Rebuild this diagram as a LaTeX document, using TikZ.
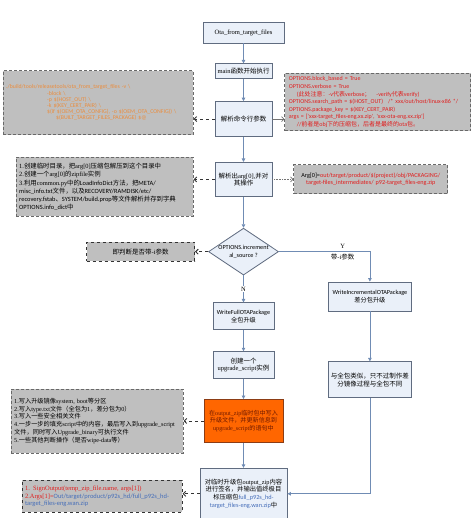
\documentclass[tikz,border=0pt]{standalone}
\usepackage{fontspec}
\setmainfont{Liberation Serif}
\newfontfamily\calfont{Carlito}
\newfontfamily\cjkfont{Noto Sans CJK SC}
\usetikzlibrary{positioning,shapes.geometric,arrows.meta}

% CJK characters switch to the CJK font on their own
\XeTeXinterchartokenstate=1
\newXeTeXintercharclass\cjkclass
\newcount\cjkcode
\newcommand\cjkrange[2]{%
  \cjkcode=#1\relax
  \loop
    \XeTeXcharclass\cjkcode=\cjkclass
    \advance\cjkcode by 1
  \ifnum\cjkcode<#2\relax\repeat}
\cjkrange{"3000}{"3040}
\cjkrange{"4E00}{"A000}
\cjkrange{"FF00}{"FFF0}
\XeTeXinterchartoks 0 \cjkclass = {\begingroup\cjkfont}
\XeTeXinterchartoks 4095 \cjkclass = {\begingroup\cjkfont}
\XeTeXinterchartoks \cjkclass 0 = {\endgroup}
\XeTeXinterchartoks \cjkclass 4095 = {\endgroup}

\definecolor{stepfill}{RGB}{234,240,249}
\definecolor{stepdraw}{RGB}{96,108,128}
\definecolor{flowline}{RGB}{112,140,180}
\definecolor{notefill}{RGB}{191,191,191}
\definecolor{notedraw}{RGB}{105,105,105}
\definecolor{notered}{RGB}{225,30,30}
\definecolor{noteblue}{RGB}{70,110,185}
\definecolor{cmdorange}{RGB}{235,140,60}
\definecolor{zipfill}{RGB}{255,102,0}
\definecolor{zipdraw}{RGB}{140,60,20}
\definecolor{ziptext}{RGB}{110,25,0}

\begin{document}
\begin{tikzpicture}[x=1pt, y=-1pt,
    every node/.style={font=\fontsize{6.5}{7.6}\selectfont},
    sans/.style={font=\calfont\fontsize{6.2}{7.6}\selectfont},
    stepbox/.style={draw=stepdraw, fill=stepfill, line width=0.8pt, align=center, inner sep=1pt},
    zipbox/.style={draw=zipdraw, fill=zipfill, line width=0.8pt, align=center, inner sep=1pt, text=ziptext},
    decision/.style={diamond, draw=stepdraw, fill=stepfill, line width=0.8pt, align=center, inner sep=-4pt, minimum width=70pt, minimum height=42pt},
    notebox/.style={draw=notedraw, fill=notefill, densely dashed, line width=0.8pt, align=left, inner xsep=3pt},
    markbox/.style={draw=black!80, fill=notefill, dashed, line width=1pt, align=left, inner xsep=3pt},
    flow/.style={draw=flowline, line width=0.8pt, -{Triangle[length=3.5pt, width=3.5pt]}},
    aside/.style={draw=black!80, dashed, line width=0.9pt, -{Straight Barb[length=2.5pt, width=5pt]}},
    hint/.style={draw=black!55, line width=0.6pt, -{Straight Barb[length=2.5pt, width=5pt]}},
  ]
  \useasboundingbox (0,0) rectangle (474,518);

  \node[stepbox, minimum width=81pt, minimum height=21pt] (ota) at (243.5,32.5) {Ota\_from\_target\_files};
  \node[stepbox, below = 20pt of ota, minimum width=57pt, minimum height=15pt] (main) {main函数开始执行};
  \node[stepbox, below = 22pt of main, minimum width=57pt, minimum height=35pt] (parse) {解析命令行参数};
  \node[stepbox, below = 25pt of parse, minimum width=57pt, minimum height=34pt] (arg0op) {解析出arg[0],并对\\其操作};
  \node[decision, below = 31pt of arg0op, sans] (dec) {OPTIONS.increment\\al\_source ?};
  \node[stepbox, sans, below = 27pt of dec, minimum width=61pt, minimum height=27pt] (full) {WriteFullOTAPackage\\全包升级};
  \node[stepbox, below = 21pt of full, minimum width=61pt, minimum height=27pt] (script) {创建一个\\upgrade\_script实例};
  \node[zipbox, below = 20pt of script, font=\fontsize{6.1}{7.6}\selectfont, minimum width=79pt, minimum height=43pt] (zipwrite) {在output\_zip临时包中写入\\升级文件，并更新信息到\\upgrade\_script的语句中};
  \node[stepbox, below = 25pt of zipwrite, font=\fontsize{6.3}{7.8}\selectfont, minimum width=87pt, minimum height=51pt] (sign) {对临时升级包output\_zip内容\\进行签名，并输出值终极目\\标压缩包\textcolor{noteblue}{\calfont full\_p92s\_hd-}\\\textcolor{noteblue}{\calfont target\_files-eng.wan.zip}中};

  \coordinate[right = 91pt of dec] (yturn);
  \node[stepbox, sans, below = 30pt of yturn, minimum width=83pt, minimum height=29pt] (incr) {WriteIncrementalOTAPackage\\差分包升级};
  \node[stepbox, below = 50pt of incr, minimum width=83pt, minimum height=36pt] (similar) {与全包类似，只不过制作差\\分镜像过程与全包不同};

  \node[notebox, left = 21pt of parse, yshift=16.5pt, text=cmdorange, font=\calfont\fontsize{5.8}{6.1}\selectfont, text width=184pt, minimum height=64pt] (cmdline) {./build/tools/releasetools/ota\_from\_target\_files -v \textbackslash\\
    \hspace*{41pt}-block \textbackslash\\
    \hspace*{41pt}-p \$(HOST\_OUT) \textbackslash\\
    \hspace*{41pt}-k \$(KEY\_CERT\_PAIR) \textbackslash\\
    \hspace*{41pt}\$(if \$(OEM\_OTA\_CONFIG), -o \$(OEM\_OTA\_CONFIG)) \textbackslash\\
    \hspace*{50pt}\$(BUILT\_TARGET\_FILES\_PACKAGE) \$@};
  \node[notebox, right = 12pt of parse, yshift=17pt, text=notered, font=\calfont\fontsize{6}{7.6}\selectfont, text width=178pt, inner xsep=4pt, minimum height=55pt] (opts) {OPTIONS.block\_based = True\\
    OPTIONS.verbose = True\\
    \hspace*{8pt}(此处注意：-v代表verbose；\hspace{6pt}-verify代表verify)\\
    OPTIONS.search\_path = \$(HOST\_OUT)\hspace{5pt}/* xxx/out/host/linux-x86 */\\
    OPTIONS.package\_key = \$(KEY\_CERT\_PAIR)\\
    args = ['xxx-target\_files-eng.xx.zip', 'xxx-ota-eng.xx.zip']\\
    \hspace*{8pt}//前者是obj下的压缩包，后者是最终的ota包。};
  \node[notebox, sans, right = 21pt of arg0op, align=center, text width=148pt, minimum height=29pt] (arg0) {Arg[0]=\textcolor{notered}{out/target/product/\$(project)/obj/PACKAGING/}\\
    \textcolor{notered}{target-files\_intermediates/ p92-target\_files-eng.zip}};
  \node[notebox, left = 21pt of arg0op, yshift=-7.5pt, font=\fontsize{6.4}{8.3}\selectfont, text width=171pt, minimum height=59pt] (unzip) {1.创建临时目录，把arg[0]压缩包解压到这个目录中\\
    2.创建一个arg[0]的zipfile实例\\
    3.利用common.py中的{\calfont LoadInfoDict}方法，把{\calfont META/}\\
    {\calfont misc\_info.txt}文件，以及{\calfont RECOVERY/RAMDISK/etc/}\\
    {\calfont recovery.fstab}、{\calfont SYSTEM/build.prop}等文件解析并存到字典\\
    {\calfont OPTIONS.info\_dict}中};
  \node[markbox, left = 13pt of dec, align=center, text width=102pt, minimum height=19pt] (judge) {即判断是否带-i参数};
  \node[notebox, left = 20pt of zipwrite, font=\fontsize{6.2}{7.9}\selectfont, text width=166pt, minimum height=64pt] (steps) {1.写入升级镜像system, boot等分区\\
    2.写入type.txt文件（全包为1，差分包为0）\\
    3.写入一些安全相关文件\\
    4.一步一步的填充script中的内容，最后写入到upgrade\_script\\
    文件，同时写入Upgrade\_binary可执行文件\\
    5.一些其他判断操作（是否wipe-data等）};
  \node[markbox, left = 17pt of sign, yshift=-2.5pt, text width=154pt, minimum height=32pt] (signnote) {\textcolor{notered}{1. SignOutput(temp\_zip\_file.name, args[1])}\\
    \textcolor{notered}{2.Args[1]=}\textcolor{noteblue}{\calfont Out/target/product/p92s\_hd/full\_p92s\_hd-}\\
    \textcolor{noteblue}{\calfont target\_files-eng.wan.zip}};

  \draw[flow] (ota) -- (main);
  \draw[flow] (main) -- (parse);
  \draw[flow] (parse) -- (arg0op);
  \draw[flow] (arg0op) -- (dec);
  \draw[flow] (dec) -- node[fill=white, inner sep=0.5pt] (nmark) {N} (full);
  \draw[flow] (full) -- (script);
  \draw[flow] (script) -- (zipwrite);
  \draw[flow] (zipwrite) -- (sign);
  \draw[flow] (dec) -- node[pos=0.7, above=-1pt] (ymark) {Y} node[pos=0.7, below=-1pt] (ynote) {带-i参数} (yturn) -- (incr);
  \draw[flow] (incr) -- (similar);
  \draw[flow] (similar) -- (similar |- sign) -- (sign);

  \draw[aside] (parse) -- (parse -| cmdline.east);
  \draw[hint] (parse) -- (parse -| opts.west);
  \draw[hint, densely dotted] (arg0op) -- (arg0op -| arg0.west);
  \draw[aside] (arg0op) -- (arg0op -| unzip.east);
  \draw[aside] (dec) -- (dec -| judge.east);
  \draw[aside] (zipwrite) -- (zipwrite -| steps.east);
  \draw[aside] (sign) -- (sign -| signnote.east);
\end{tikzpicture}
\end{document}
